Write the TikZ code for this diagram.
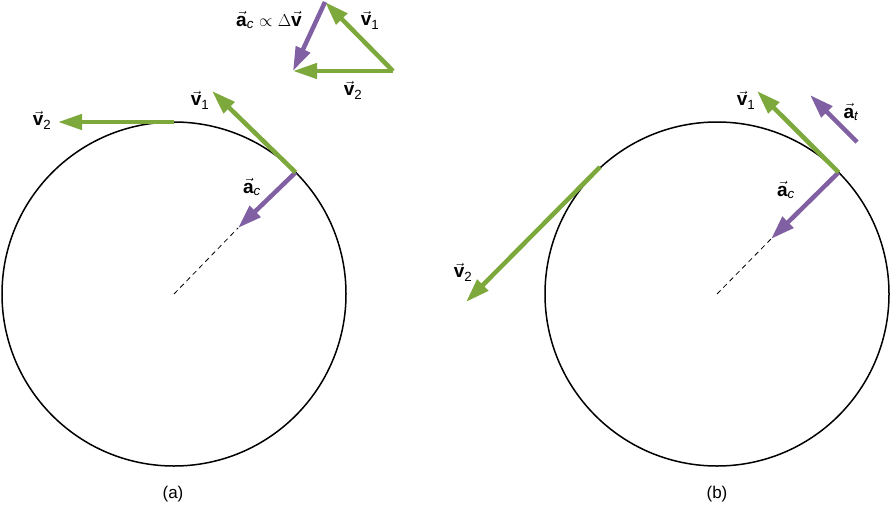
\documentclass[tikz,border=0pt]{standalone}
\usepackage{fontspec}
\setmainfont{Liberation Sans}
\usetikzlibrary{arrows.meta}
\definecolor{vgreen}{RGB}{124,168,60}
\definecolor{apurple}{RGB}{128,95,162}
\newcommand\myvec[1]{$\vec{\mbox{\bfseries #1}}$}
\newcommand\mysub[1]{\textsubscript{#1}}
\begin{document}
\begin{tikzpicture}[x=1pt,y=-1pt,
  vecarrow/.style={line width=4.5pt,-{Triangle[length=24pt,width=15pt]}},
  gvec/.style={vecarrow,draw=vgreen},
  pvec/.style={vecarrow,draw=apurple},
  rim/.style={line width=1.5pt,draw=black},
  radial/.style={line width=0.8pt,dash pattern=on 5pt off 4pt},
  lbl/.style={font=\fontsize{19}{22}\selectfont,inner sep=0pt},
  captxt/.style={font=\fontsize{17}{20}\selectfont,inner sep=0pt}]
\useasboundingbox (0,0) rectangle (891,506);
% ---------- (a) ----------
\coordinate (aC) at (174,294);
\coordinate (aP) at (295.6,172.4);
\coordinate (aTop) at (174,122);
\coordinate (aV1) at (212,91);
\coordinate (aV2) at (58,122);
\coordinate (aAc) at (238,228);
\draw[rim] (aC) circle[radius=172pt];
\draw[radial] (aC) -- (aAc);
\draw[pvec] (aP) -- (aAc);
\draw[gvec] (aP) -- (aV1);
\draw[gvec] (aTop) -- (aV2);
\node[lbl] (la2) at (42,120) {\myvec{v}\mysub{2}};
\node[lbl] (la1) at (200,100) {\myvec{v}\mysub{1}};
\node[lbl] (lac) at (252,187) {\myvec{a}\mysub{\itshape c}};
% triangle
\coordinate (T1) at (393,71);
\coordinate (T2) at (325,2);
\coordinate (T3) at (293,71);
\draw[gvec] (T1) -- (T2);
\draw[gvec] (T1) -- (T3);
\draw[pvec] (T2) -- (T3);
\node[lbl] (ltri) at (269,20) {\myvec{a}\mysub{\itshape c} $\propto$ $\Delta$\myvec{v}};
\node[lbl] (lt1) at (370,20) {\myvec{v}\mysub{1}};
\node[lbl] (lt2) at (353,90) {\myvec{v}\mysub{2}};
\node[captxt] (capa) at (173,494) {(a)};
% ---------- (b) ----------
\coordinate (bC) at (717,294);
\coordinate (bP) at (838.6,172.4);
\coordinate (bV1) at (757,91);
\coordinate (bAc) at (771,239);
\coordinate (bAt0) at (857,142);
\coordinate (bAt1) at (810,95);
\coordinate (bV2a) at (600,167);
\coordinate (bV2b) at (466,302);
\draw[rim] (bC) circle[radius=172pt];
\draw[radial] (bC) -- (bAc);
\draw[pvec] (bP) -- (bAc);
\draw[gvec] (bP) -- (bV1);
\draw[pvec] (bAt0) -- (bAt1);
\draw[gvec] (bV2a) -- (bV2b);
\node[lbl] (lb1) at (746,100) {\myvec{v}\mysub{1}};
\node[lbl] (lbt) at (851,112) {\myvec{a}\mysub{\itshape t}};
\node[lbl] (lbc) at (786,190) {\myvec{a}\mysub{\itshape c}};
\node[lbl] (lb2) at (463,272) {\myvec{v}\mysub{2}};
\node[captxt] (capb) at (717,494) {(b)};
\end{tikzpicture}
\end{document}
